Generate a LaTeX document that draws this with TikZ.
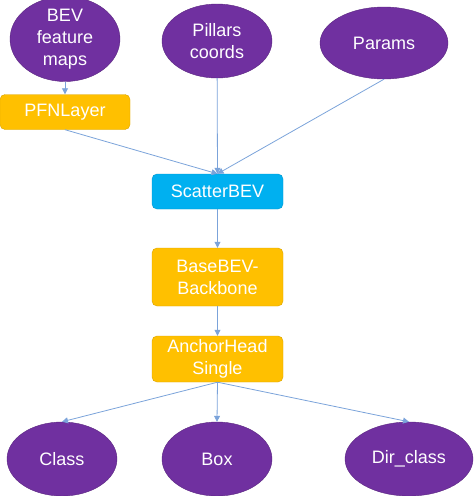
\documentclass[tikz,border=0pt]{standalone}
\usepackage{fontspec}
\setmainfont{Liberation Sans}
\usepackage{xcolor}
\usetikzlibrary{shapes, arrows.meta, positioning, calc}

\definecolor{datapurple}{HTML}{7030A0}
\definecolor{layerorange}{HTML}{FFC000}
\definecolor{scatterblue}{HTML}{00B0F0}
\definecolor{linkblue}{HTML}{7BA3DA}

\tikzset{
  data/.style={ellipse, draw=datapurple!80!black, fill=datapurple, text=white,
    minimum width=110pt, minimum height=74pt, inner sep=0pt, align=center,
    font=\fontsize{18}{22}\selectfont},
  layer/.style={rectangle, rounded corners=5pt, draw=layerorange!85!black, fill=layerorange,
    text=white, minimum width=131pt, inner sep=0pt, align=center,
    font=\fontsize{18}{22}\selectfont},
  link/.style={draw=linkblue, line width=0.8pt, -{Triangle[length=6pt,width=6pt]}}
}

\begin{document}
\begin{tikzpicture}[x=1pt,y=-1pt]
  \useasboundingbox (0,0) rectangle (474,496);

  % Inputs
  \node[data] (bev) at (65,39) {BEV\\feature\\maps};
  \node[data] (pillars) at (217,41) {Pillars\\coords};
  \node[data, minimum width=128pt, minimum height=72pt] (params) at (384,43) {Params};

  % Layers
  \node[layer, minimum width=130pt, minimum height=35pt] (pfn) at (65,112) {PFNLayer};
  \node[layer, fill=scatterblue, draw=scatterblue!85!black, minimum height=35pt] (scatter) at (217.5,191.5) {ScatterBEV};
  \node[layer, minimum height=58pt] (backbone) at (217.5,277) {BaseBEV-\\Backbone};
  \node[layer, minimum height=46pt] (head) at (217.5,359) {AnchorHead\\Single};

  % Outputs
  \node[data] (cls) at (62,459) {Class};
  \node[data] (box) at (217,459) {Box};
  \node[data, minimum width=128pt] (dir) at (409,459) {Dir\_class};

  % Connections
  \draw[link] (bev) -- (pfn);
  \draw[link] (pfn.south) -- (scatter.north);
  \draw[link] (pillars) -- (scatter.north);
  \draw[link] (params.south) -- (scatter.north);
  \draw[link] (scatter) -- (backbone);
  \draw[link] (backbone) -- (head);
  \draw[link] (head.south) -- (cls.north);
  \draw[link] (head.south) -- (box.north);
  \draw[link] (head.south) -- (dir.north);
\end{tikzpicture}
\end{document}
